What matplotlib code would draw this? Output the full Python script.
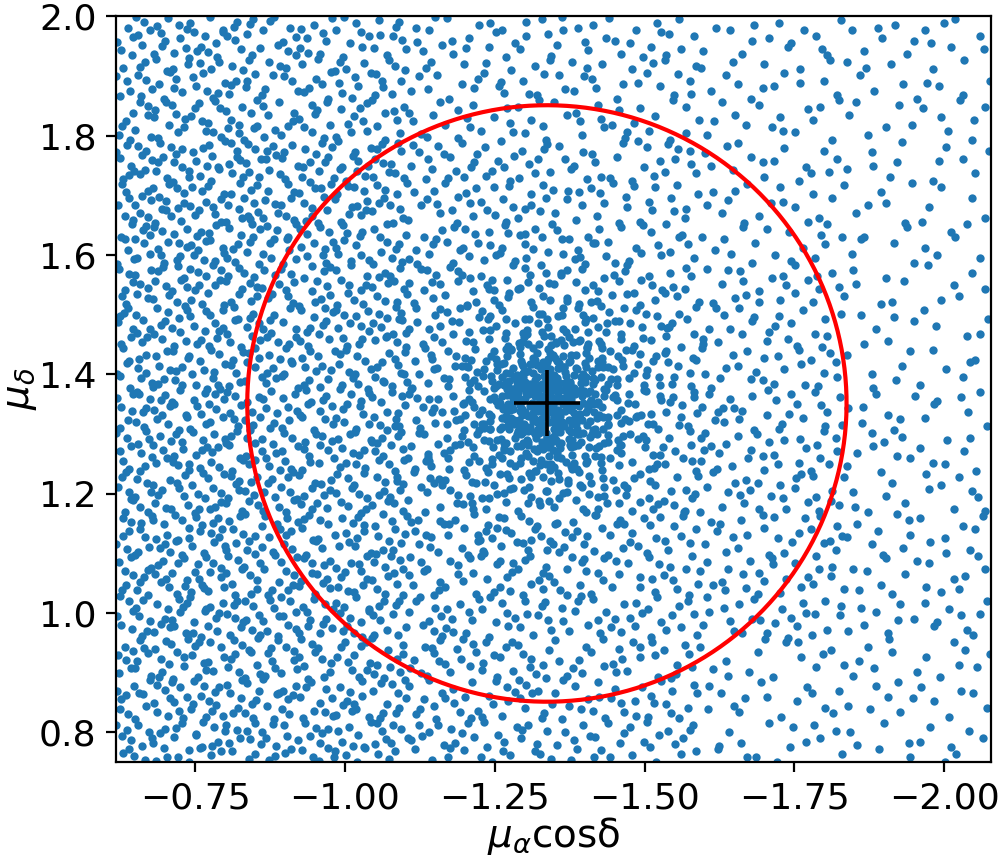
import numpy as np
import matplotlib
matplotlib.use("Agg")
import matplotlib.pyplot as plt

# plot window
x_lim = (-0.618, -2.078)
y_lim = (0.75, 2.0)

# field stars: counts read per cell of a 6 x 6 grid over the window
# rows from top (mu_delta = 2.0) to bottom, columns from left (-0.62) to right (-2.08)
cell_counts = [
    [125, 105, 70, 65, 45, 40],
    [150, 135, 95, 75, 50, 35],
    [150, 140, 95, 90, 70, 35],
    [155, 145, 100, 90, 80, 45],
    [150, 140, 105, 90, 75, 50],
    [140, 130, 100, 85, 45, 40],
]

# cluster members: counts in rings around the cluster centre
cluster_center = (-1.337, 1.351)
ring_edges = [0.0, 0.04, 0.08, 0.12, 0.17, 0.23, 0.30]
ring_counts = [70, 150, 120, 80, 55, 45]

# selection circle
circle_center = (-1.337, 1.351)
circle_radius = 0.5


def halton(i, base):
    f, r = 1.0, 0.0
    while i > 0:
        f /= base
        r += f * (i % base)
        i //= base
    return r


def cell_points(counts, leap=17):
    nrow, ncol = len(counts), len(counts[0])
    xe = np.linspace(x_lim[0], x_lim[1], ncol + 1)
    ye = np.linspace(y_lim[1], y_lim[0], nrow + 1)
    xs, ys = [], []
    k = 0
    for r in range(nrow):
        for c in range(ncol):
            start = 1 + k * 3001
            for j in range(counts[r][c]):
                idx = start + j * leap
                xs.append(xe[c] + halton(idx, 2) * (xe[c + 1] - xe[c]))
                ys.append(ye[r] + halton(idx, 3) * (ye[r + 1] - ye[r]))
            k += 1
    return xs, ys


def ring_points(center, edges, counts, leap=13):
    xs, ys = [], []
    for i, n in enumerate(counts):
        r0, r1 = edges[i], edges[i + 1]
        start = 7 + i * 2003
        for j in range(n):
            idx = start + j * leap
            rr = np.sqrt(r0 ** 2 + (r1 ** 2 - r0 ** 2) * halton(idx, 2))
            th = 2 * np.pi * halton(idx, 5)
            xs.append(center[0] + rr * np.cos(th))
            ys.append(center[1] + rr * np.sin(th))
    return xs, ys


fx, fy = cell_points(cell_counts)
cx, cy = ring_points(cluster_center, ring_edges, ring_counts)

plt.rcParams['font.size'] = 13

fig = plt.figure(figsize=(5, 4.3), dpi=200)
ax = fig.add_axes([0.116, 0.114, 0.875, 0.867])

ax.scatter(fx + cx, fy + cy, s=9, linewidths=0, color='C0')

t = np.linspace(0, 2 * np.pi, 400)
ax.plot(circle_center[0] + circle_radius * np.cos(t),
        circle_center[1] + circle_radius * np.sin(t), color='red', lw=1.5)
ax.plot([cluster_center[0]], [cluster_center[1]], '+', color='black', ms=24, mew=1.3)

ax.set_xlim(*x_lim)
ax.set_ylim(*y_lim)
ax.set_xticks([-0.75, -1.0, -1.25, -1.5, -1.75, -2.0])
ax.set_xlabel(r'$\mu_\alpha$cosδ', fontsize=14, labelpad=0)
ax.set_ylabel(r'$\mu_\delta$', fontsize=14, labelpad=0)

fig.savefig('out.png', dpi=200)
